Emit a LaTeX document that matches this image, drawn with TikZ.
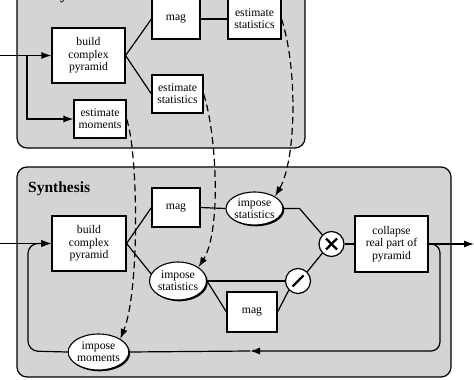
\documentclass[tikz,border=0pt]{standalone}
\usepackage{fontspec}
\setmainfont{Liberation Serif}
\usetikzlibrary{shapes.geometric,arrows.meta,shadows}
\definecolor{panelgray}{gray}{0.83}
\begin{document}
\begin{tikzpicture}[x=1pt,y=-1pt,
  panel/.style={fill=panelgray, draw=black, line width=1.2pt, rounded corners=10pt},
  blk/.style={draw=black, fill=white, line width=1.1pt, align=center, inner sep=0pt,
    font=\fontsize{11.7}{12.3}\selectfont,
    drop shadow={shadow xshift=1.3pt, shadow yshift=-1.3pt, fill=black, opacity=1}},
  box/.style={blk, rectangle},
  oval/.style={blk, ellipse},
  op/.style={circle, draw=black, fill=white, line width=1.2pt, minimum size=25pt, inner sep=0pt},
  wire/.style={line width=1.2pt},
  arr/.style={wire, -{Latex[length=10pt,width=7pt]}},
  dsh/.style={arr, dash pattern=on 7pt off 4pt},
  sym/.style={line width=2.3pt},
  title/.style={font=\fontsize{15.5}{17}\selectfont\bfseries, anchor=base west, inner sep=0pt}
]
\useasboundingbox (0,0) rectangle (474,380);
\clip (0,0) rectangle (474,380);

% panels
\draw[panel] (17,-40) rectangle (305,148);
\draw[panel] (17,167) rectangle (451,377);
\node[title] (tA) at (28,-0.5) {Analysis};
\node[title] (tS) at (28,192.5) {Synthesis};

% analysis
\node[box, minimum width=73pt, minimum height=55pt] (bA) at (88.5,55.5) {build\\complex\\pyramid};
\node[box, minimum width=48pt, minimum height=40pt] (mA) at (176,19) {mag};
\node[box, minimum width=53pt, minimum height=40pt] (sA1) at (254.5,19) {estimate\\statistics};
\node[box, minimum width=51pt, minimum height=38pt] (sA2) at (177.5,94) {estimate\\statistics};
\node[box, minimum width=52pt, minimum height=38pt] (mo) at (100,119) {estimate\\moments};

\coordinate (inA) at (0,55.5);
\coordinate (brA) at (27,55.5);
\draw[arr] (inA) -- (bA.west);
\draw[arr] (brA) |- (mo.west);
\draw[wire] (bA.east) -- (mA.west);
\draw[wire] (bA.east) -- (sA2.west);
\draw[wire] (mA.east) -- (sA1.west);

% synthesis
\node[box, minimum width=74pt, minimum height=55pt] (bB) at (89,243.5) {build\\complex\\pyramid};
\node[box, minimum width=48pt, minimum height=39pt] (mB1) at (176,207.5) {mag};
\node[oval, minimum width=55pt, minimum height=33pt] (iS1) at (254.5,208.5) {impose\\statistics};
\node[oval, minimum width=54pt, minimum height=38pt] (iS2) at (178,281) {impose\\statistics};
\node[box, minimum width=50pt, minimum height=40pt] (mB2) at (252,312) {mag};
\node[op] (mul) at (331.5,244) {};
\node[op] (dv) at (298,281) {};
\node[box, minimum width=73pt, minimum height=56pt] (col) at (391.5,244) {collapse\\real part of\\pyramid};
\node[oval, minimum width=55pt, minimum height=36pt] (imo) at (98.5,352) {impose\\moments};

\draw[sym] (mul.center) ++(-5.5,-5.5) -- ++(11,11);
\draw[sym] (mul.center) ++(-5.5,5.5) -- ++(11,-11);
\draw[sym] (dv.center) ++(-5.5,5.5) -- ++(11,-11);

\coordinate (inB) at (0,243.5);
\coordinate (out) at (474,244);
\coordinate (fbM) at (250,351);
\draw[arr] (inB) -- (bB.west);
\draw[wire] (bB.east) -- (mB1.west);
\draw[wire] (bB.east) -- (iS2.165);
\draw[wire] (mB1.east) -- (iS1.west);
\draw[wire] (iS1.east) -- ++(16,0) -- (mul.135);
\draw[wire] (iS2.east) -- (dv.west);
\draw[wire] (iS2.east) -- (mB2.west);
\draw[wire] (mB2.east) -- (dv.225);
\draw[wire] (dv.45) -- (mul.225);
\draw[wire] (mul.east) -- (col.west);
\draw[arr] (col.east) -- (out);
\draw[arr, rounded corners=9pt] (col.east) -- (440,244) -- (440,351) -- (fbM);
\draw[wire] (fbM) -- (imo.east);
\draw[arr, rounded corners=10pt] (imo.west) -- (28,351) -- (28,243.5) -- (bB.west);

% dashed links
\draw[dsh] (mo.east) .. controls (138,150) and (140,290) .. (imo.north east);
\draw[dsh] (sA2.east) .. controls (216,130) and (222,230) .. (iS2.north east);
\draw[dsh] (sA1.east) .. controls (298,70) and (296,160) .. (iS1.north east);
\end{tikzpicture}
\end{document}
